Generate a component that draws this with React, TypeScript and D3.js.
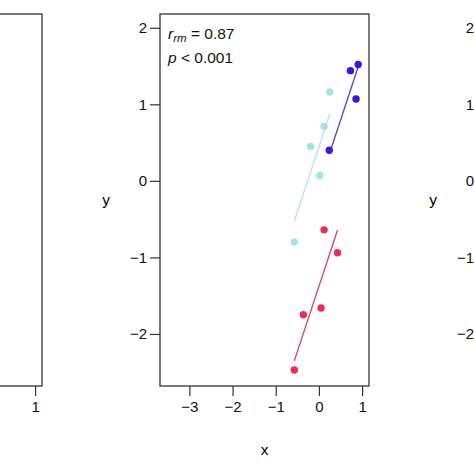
import React, { useEffect, useRef } from "react";
import { select, scaleLinear, axisBottom, axisLeft, mean, sum, min, max, format } from "d3";

// subjects (repeated measures)
const cyanX = [0.25, 0.12, -0.19, 0.02, -0.57];
const cyanY = [1.16, 0.71, 0.45, 0.07, -0.8];
const redX = [0.12, 0.43, -0.36, 0.05, -0.57];
const redY = [-0.64, -0.94, -1.75, -1.66, -2.47];
const blueX = [0.73, 0.91, 0.86, 0.24];
const blueY = [1.44, 1.52, 1.07, 0.4];

const xTicks = [-3, -2, -1, 0, 1];
const yTicks = [-2, -1, 0, 1, 2];
const rmLabel = "0.87";
const pLabel = "0.001";

const subjects = [
    { xs: cyanX, ys: cyanY, dot: "#a6e3e6", line: "#b2e3ea" },
    { xs: redX, ys: redY, dot: "#ea2c5c", line: "#d43e68" },
    { xs: blueX, ys: blueY, dot: "#3b14e0", line: "#5a3ccc" },
];

const App = (): JSX.Element => {
    const ref = useRef<SVGSVGElement>(null);

    useEffect(() => {
        document.body.style.margin = "0";
        const svg = select(ref.current);
        svg.selectAll("*").remove();

        const font = "'Liberation Sans', Arial, Helvetica, sans-serif";
        const fmt = format("d");
        const panelShift = 327;
        const left = 160;
        const right = 369;
        const top = 14;
        const bottom = 386;

        // common within-subject slope (repeated measures correlation)
        let sxy = 0;
        let sxx = 0;
        subjects.forEach((s) => {
            const mx = mean(s.xs) || 0;
            const my = mean(s.ys) || 0;
            sxy += sum(s.xs, (x, i) => (x - mx) * (s.ys[i] - my));
            sxx += sum(s.xs, (x) => (x - mx) * (x - mx));
        });
        const slope = sxy / sxx;

        [-1, 0, 1].forEach((p) => {
            const off = p * panelShift;
            const x_scale = scaleLinear().domain([-3.68, 1.16]).range([left + off, right + off]);
            const y_scale = scaleLinear().domain([-2.68, 2.18]).range([bottom, top]);
            const g = svg.append("g");

            const x_axis = axisBottom(x_scale).tickValues(xTicks).tickFormat(fmt).tickSize(10).tickSizeOuter(0).tickPadding(5);
            const xa = g.append("g").attr("transform", `translate(0, ${bottom})`).call(x_axis);
            xa.select(".domain").remove();
            xa.selectAll("line").attr("stroke", "#333").attr("stroke-width", 1.2);
            xa.selectAll("text").attr("font-size", 15).attr("font-family", font).attr("fill", "#111");

            const y_axis = axisLeft(y_scale).tickValues(yTicks).tickFormat(fmt).tickSize(10).tickSizeOuter(0).tickPadding(3);
            const ya = g.append("g").attr("transform", `translate(${left + off}, 0)`).call(y_axis);
            ya.select(".domain").remove();
            ya.selectAll("line").attr("stroke", "#333").attr("stroke-width", 1.2);
            ya.selectAll("text").attr("font-size", 15).attr("font-family", font).attr("fill", "#111");

            g.append("rect")
                .attr("x", left + off)
                .attr("y", top)
                .attr("width", right - left)
                .attr("height", bottom - top)
                .attr("fill", "none")
                .attr("stroke", "#333")
                .attr("stroke-width", 1.3);

            g.append("text")
                .attr("x", (left + right) / 2 + off)
                .attr("y", 455)
                .attr("text-anchor", "middle")
                .attr("font-size", 15.5)
                .attr("font-family", font)
                .text("x");
            g.append("text")
                .attr("x", 106 + off)
                .attr("y", 205)
                .attr("text-anchor", "middle")
                .attr("font-size", 15.5)
                .attr("font-family", font)
                .text("y");

            if (p !== 0) return;

            subjects.forEach((s) => {
                const mx = mean(s.xs) || 0;
                const my = mean(s.ys) || 0;
                const x0 = min(s.xs) || 0;
                const x1 = max(s.xs) || 0;
                g.append("line")
                    .attr("x1", x_scale(x0))
                    .attr("y1", y_scale(my + slope * (x0 - mx)))
                    .attr("x2", x_scale(x1))
                    .attr("y2", y_scale(my + slope * (x1 - mx)))
                    .attr("stroke", s.line)
                    .attr("stroke-width", 1.3);
            });

            subjects.forEach((s) => {
                g.selectAll(null)
                    .data(s.xs.map((x, i) => [x, s.ys[i]]))
                    .join("circle")
                    .attr("cx", (d) => x_scale(d[0]))
                    .attr("cy", (d) => y_scale(d[1]))
                    .attr("r", 3.7)
                    .attr("fill", s.dot);
            });

            const t1 = g.append("text").attr("x", 168).attr("y", 39).attr("font-size", 15.5).attr("font-family", font).attr("fill", "#111");
            t1.append("tspan").attr("font-style", "italic").text("r");
            t1.append("tspan").attr("font-style", "italic").attr("font-size", 11.5).attr("dy", 3).text("rm");
            t1.append("tspan").attr("dy", -3).text(` = ${rmLabel}`);

            const t2 = g.append("text").attr("x", 168).attr("y", 63).attr("font-size", 15.5).attr("font-family", font).attr("fill", "#111");
            t2.append("tspan").attr("font-style", "italic").text("p");
            t2.append("tspan").text(` < ${pLabel}`);
        });

        // the neighbouring panels are cut by the frame: drop texts that fall wholly outside it
        svg.selectAll<SVGTextElement, unknown>("text").each(function () {
            const b = this.getBBox();
            const m = this.getCTM();
            const x0 = b.x + (m ? m.e : 0);
            if (x0 + b.width <= 0 || x0 >= 474) select(this).remove();
        });
    }, []);

    return (
        <div>
            <svg ref={ref} width={474} height={474} style={{ display: "block", background: "#fff" }} />
        </div>
    );
};

export default App;
